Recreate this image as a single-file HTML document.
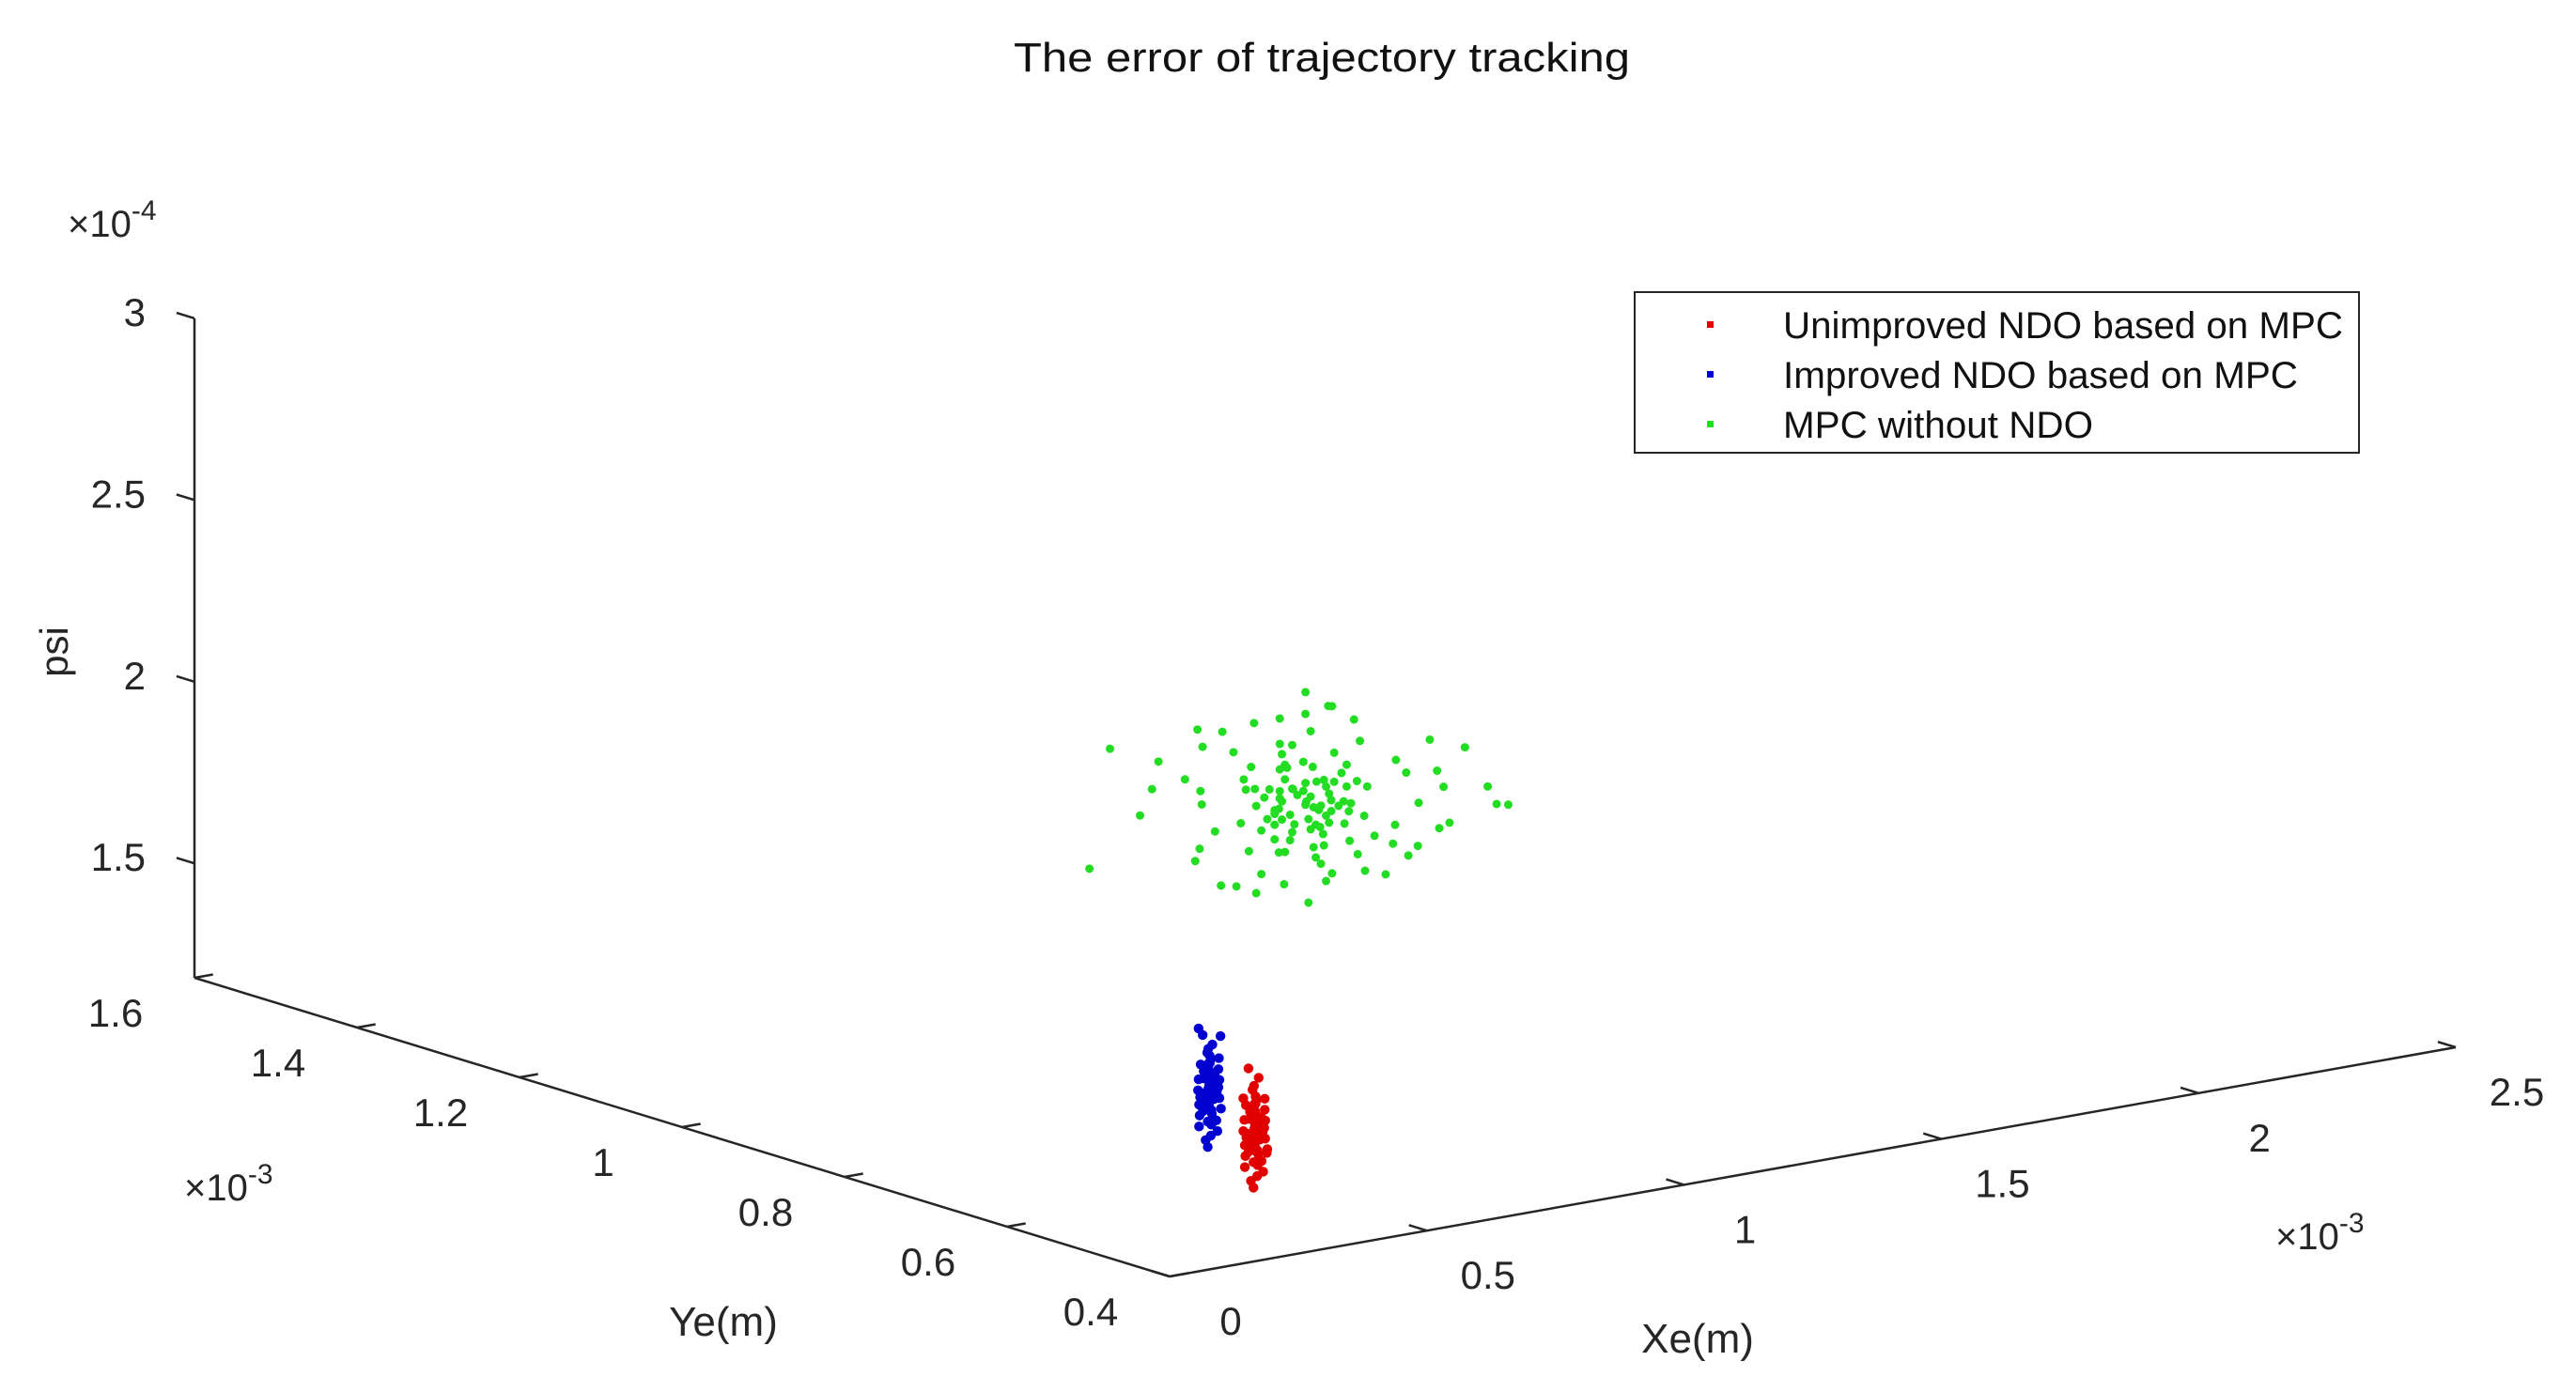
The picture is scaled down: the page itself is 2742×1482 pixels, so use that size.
<!DOCTYPE html>
<html><head><meta charset="utf-8"><style>
html,body{margin:0;padding:0;background:#fff;}
svg{display:block;font-family:"Liberation Sans",Arial,sans-serif;}
</style></head><body>
<svg id="chart" width="2742" height="1482" viewBox="0 0 2742 1482" xmlns="http://www.w3.org/2000/svg">
<rect width="2742" height="1482" fill="#fff"/>
<text x="1407" y="76" font-size="44" text-anchor="middle" fill="#111" textLength="656" lengthAdjust="spacingAndGlyphs">The error of trajectory tracking</text>
<g id="axes"></g>
<g id="marks"></g>
<g id="legend">
<rect x="1740" y="311" width="771" height="171" fill="#fff" stroke="#262626" stroke-width="2"/>
<rect x="1817" y="342" width="7" height="7" fill="#e00000"/>
<text x="1898" y="360" font-size="40" fill="#111" textLength="596" lengthAdjust="spacingAndGlyphs">Unimproved NDO based on MPC</text>
<rect x="1817" y="395" width="7" height="7" fill="#0000d0"/>
<text x="1898" y="413" font-size="40" fill="#111" textLength="548" lengthAdjust="spacingAndGlyphs">Improved NDO based on MPC</text>
<rect x="1817" y="448" width="7" height="7" fill="#22dd22"/>
<text x="1898" y="466" font-size="40" fill="#111" textLength="330" lengthAdjust="spacingAndGlyphs">MPC without NDO</text>
</g>
</svg>
<script>
const xTicks = [0, 0.5, 1, 1.5, 2, 2.5];
const xTickLabels = ["0","0.5","1","1.5","2","2.5"];
const yTicks = [0.4,0.6,0.8,1.0,1.2,1.4,1.6];
const yTickLabels = ["0.4","0.6","0.8","1","1.2","1.4","1.6"];
const zTicks = [1.5,2,2.5,3];
const zTickLabels = ["1.5","2","2.5","3"];

// MPC without NDO (x, y in 1e-3 m; psi in 1e-4)
const greenX = [0.58,0.55,0.61,0.52,0.64,0.57,0.50,0.66,0.60,0.54,
0.47,0.70,0.62,0.56,0.59,0.45,0.73,0.53,0.68,0.49,
0.63,0.41,0.76,0.58,0.51,0.65,0.44,0.71,0.36,0.80,
0.57,0.48,0.67,0.39,0.84,0.60,0.55,0.62,0.33,0.88,
0.52,0.69,0.43,0.78,0.29,0.92,0.58,0.50,0.74,0.46,
0.64,0.38,0.82,0.56,0.61,0.25,0.95,0.53,0.72,0.42,
0.86,0.59,0.35,0.66,0.48,0.79,0.20,0.99,0.57,0.63,
0.45,0.75,0.54,0.31,0.89,0.60,0.51,0.68,0.40,0.83,
0.16,0.57,0.62,0.47,0.70,0.55,0.37,0.77,0.65,0.52,
0.55,0.58,0.61,0.53,0.63,0.57,0.60,0.52,0.66,0.56,
0.59,0.54,0.62,0.50,0.64,0.58,0.55,0.61,0.57,0.60,
0.53,0.67,0.56,0.59,0.51,0.63,0.58,0.54,0.62,0.57,
0.49,0.65,0.60,0.55,0.58,0.61,0.53,0.68,0.56,0.59];
const greenY = [0.60,0.61,0.59,0.60,0.62,0.58,0.60,0.61,0.59,0.60,
0.61,0.60,0.59,0.62,0.60,0.58,0.61,0.60,0.59,0.61,
0.60,0.62,0.59,0.60,0.61,0.58,0.60,0.61,0.59,0.60,
0.62,0.60,0.59,0.61,0.60,0.58,0.61,0.60,0.59,0.62,
0.60,0.61,0.59,0.60,0.62,0.58,0.60,0.61,0.59,0.60,
0.61,0.60,0.59,0.62,0.60,0.58,0.61,0.60,0.59,0.61,
0.60,0.62,0.59,0.60,0.61,0.58,0.60,0.61,0.59,0.60,
0.62,0.60,0.59,0.61,0.60,0.58,0.61,0.60,0.59,0.62,
0.60,0.61,0.59,0.60,0.62,0.58,0.60,0.61,0.59,0.60,
0.60,0.61,0.59,0.60,0.60,0.61,0.59,0.60,0.60,0.61,
0.59,0.60,0.60,0.61,0.59,0.60,0.60,0.61,0.59,0.60,
0.60,0.61,0.59,0.60,0.60,0.61,0.59,0.60,0.60,0.61,
0.59,0.60,0.60,0.61,0.59,0.60,0.60,0.61,0.59,0.60];
const greenZ = [2.20,2.16,2.23,2.20,2.11,2.28,2.24,2.17,2.09,2.32,
2.17,2.22,2.34,2.06,2.40,2.29,2.07,2.38,2.00,2.32,
2.20,2.23,2.25,2.45,2.02,2.06,2.38,2.13,2.30,2.15,
1.97,2.45,2.36,2.12,2.07,2.48,2.34,1.98,2.34,2.16,
2.12,2.40,2.02,2.01,2.23,2.13,2.51,1.97,2.29,2.30,
2.45,2.41,2.24,2.18,2.03,2.34,2.15,2.45,1.98,2.16,
2.08,2.13,2.11,2.29,2.26,2.34,2.45,2.09,1.94,2.17,
2.42,2.05,2.26,2.38,2.28,2.02,2.14,2.24,2.03,2.01,
2.13,2.36,2.26,2.10,2.16,2.23,2.46,2.09,2.09,2.19,
2.18,2.22,2.15,2.25,2.20,2.12,2.27,2.16,2.23,2.30,
2.19,2.08,2.24,2.21,2.14,2.26,2.11,2.29,2.17,2.05,
2.23,2.18,2.33,2.13,2.26,2.10,2.20,2.28,2.16,2.24,
2.19,2.27,2.14,2.21,2.09,2.19,2.31,2.15,2.25,2.22];

// Unimproved NDO based on MPC
const redX = [0.324,0.318,0.330,0.321,0.327,0.315,0.333,0.324,0.319,0.329,
0.322,0.326,0.316,0.331,0.323,0.320,0.328,0.325,0.317,0.332,
0.324,0.321,0.327,0.319,0.330,0.323,0.326,0.318,0.329,0.322,
0.325,0.320,0.328,0.324,0.317,0.331,0.323,0.326,0.321,0.327,
0.322,0.326,0.320,0.328,0.324,0.319,0.327,0.323,0.325,0.321,
0.329,0.318,0.324,0.326,0.320,0.327,0.322,0.325,0.319,0.328];
const redY = [0.50,0.50,0.51,0.49,0.50,0.50,0.51,0.49,0.50,0.50,
0.51,0.49,0.50,0.50,0.51,0.49,0.50,0.50,0.51,0.49,
0.50,0.50,0.51,0.49,0.50,0.50,0.51,0.49,0.50,0.50,
0.51,0.49,0.50,0.50,0.51,0.49,0.50,0.50,0.51,0.49,
0.50,0.50,0.51,0.49,0.50,0.50,0.51,0.49,0.50,0.50,
0.51,0.49,0.50,0.50,0.51,0.49,0.50,0.50,0.51,0.49];
const redZ = [1.44,1.40,1.48,1.36,1.52,1.42,1.46,1.33,1.55,1.38,
1.50,1.45,1.30,1.58,1.41,1.47,1.35,1.53,1.43,1.39,
1.49,1.28,1.60,1.44,1.37,1.51,1.42,1.46,1.34,1.56,
1.40,1.48,1.31,1.45,1.52,1.38,1.43,1.47,1.36,1.50,
1.41,1.45,1.39,1.47,1.43,1.49,1.37,1.44,1.51,1.35,
1.46,1.42,1.40,1.48,1.33,1.53,1.44,1.38,1.46,1.42];

// Improved NDO based on MPC
const blueX = [0.314,0.309,0.319,0.312,0.317,0.306,0.321,0.314,0.310,0.318,
0.313,0.316,0.307,0.320,0.312,0.311,0.318,0.315,0.308,0.321,
0.314,0.311,0.317,0.309,0.319,0.313,0.316,0.308,0.318,0.312,
0.315,0.310,0.317,0.314,0.309,0.320,0.313,0.316,0.311,0.316,
0.312,0.316,0.310,0.318,0.314,0.309,0.317,0.313,0.315,0.311,
0.319,0.308,0.314,0.316,0.310,0.317,0.312,0.315,0.309,0.318];
const blueY = [0.55,0.55,0.56,0.54,0.55,0.55,0.56,0.54,0.55,0.55,
0.56,0.54,0.55,0.55,0.56,0.54,0.55,0.55,0.56,0.54,
0.55,0.55,0.56,0.54,0.55,0.55,0.56,0.54,0.55,0.55,
0.56,0.54,0.55,0.55,0.56,0.54,0.55,0.55,0.56,0.54,
0.55,0.55,0.56,0.54,0.55,0.55,0.56,0.54,0.55,0.55,
0.56,0.54,0.55,0.55,0.56,0.54,0.55,0.55,0.56,0.54];
const blueZ = [1.52,1.48,1.56,1.44,1.60,1.50,1.54,1.41,1.62,1.46,
1.58,1.53,1.38,1.64,1.49,1.55,1.43,1.61,1.51,1.47,
1.57,1.36,1.66,1.52,1.45,1.59,1.50,1.54,1.42,1.63,
1.48,1.56,1.39,1.53,1.68,1.67,1.51,1.55,1.44,1.58,
1.49,1.53,1.47,1.55,1.51,1.57,1.45,1.52,1.59,1.43,
1.54,1.50,1.48,1.56,1.41,1.61,1.52,1.46,1.54,1.50];

const NS = "http://www.w3.org/2000/svg";
const ORG = [1245,1359];
const XV = [1369,-244];
const YV = [-1038,-318];
const zMin = 1.185, zPx = 386.8;
function proj(x,y,z){
  const tx = x/2.5, ty = (y-0.4)/1.2;
  return [ORG[0]+tx*XV[0]+ty*YV[0], ORG[1]+tx*XV[1]+ty*YV[1]-(z-zMin)*zPx];
}
function mk(tag, attrs, parent){
  const e = document.createElementNS(NS, tag);
  for (const k in attrs) e.setAttribute(k, attrs[k]);
  parent.appendChild(e); return e;
}
const axes = document.getElementById('axes');
const marks = document.getElementById('marks');
const AX = "#262626";
function unit(v,l){const n=Math.hypot(v[0],v[1]);return [v[0]/n*l,v[1]/n*l];}

const o = proj(0,0.4,zMin), xe = proj(2.5,0.4,zMin), yb = proj(0,1.6,zMin), zt = proj(0,1.6,3);
let l;
l = mk('line',{x1:o[0],y1:o[1],x2:xe[0],y2:xe[1],stroke:AX,'stroke-width':2.5},axes);


l = mk('line',{x1:o[0],y1:o[1],x2:yb[0],y2:yb[1],stroke:AX,'stroke-width':2.5},axes);


l = mk('line',{x1:yb[0],y1:yb[1],x2:zt[0],y2:zt[1],stroke:AX,'stroke-width':2.5},axes);



const tickX = unit(YV,20), tickY = unit(XV,20), tickZ = unit(YV,20);
function txt(x,y,s,size,anchor,name){
  const t = mk('text',{x:x,y:y,'font-size':size,'text-anchor':anchor,fill:AX},axes);
  t.textContent = s;
  
  
  return t;
}
xTicks.forEach((v,i)=>{
  const p = proj(v,0.4,zMin);
  const t = mk('line',{x1:p[0],y1:p[1],x2:p[0]+tickX[0],y2:p[1]+tickX[1],stroke:AX,'stroke-width':2.5},axes);
  
  
  txt(p[0]+65,p[1]+62,xTickLabels[i],42,'middle','x-tick-label');
});
yTicks.forEach((v,i)=>{
  const p = proj(0,v,zMin);
  const t = mk('line',{x1:p[0],y1:p[1],x2:p[0]+tickY[0],y2:p[1]+tickY[1],stroke:AX,'stroke-width':2.5},axes);
  
  
  txt(p[0]-84,p[1]+52,yTickLabels[i],42,'middle','y-tick-label');
});
zTicks.forEach((v,i)=>{
  const p = proj(0,1.6,v);
  const t = mk('line',{x1:p[0],y1:p[1],x2:p[0]+tickZ[0],y2:p[1]+tickZ[1],stroke:AX,'stroke-width':2.5},axes);
  
  
  txt(p[0]-52,p[1]+8,zTickLabels[i],42,'end','z-tick-label');
});
txt(1807,1440,'Xe(m)',44,'middle','x-axis-title');
txt(770,1422,'Ye(m)',44,'middle','y-axis-title');
const pz = txt(0,0,'psi',42,'middle','z-axis-title');
pz.setAttribute('transform','translate(72,694) rotate(-90)');
function expo(x,y,p,name){
  const t = mk('text',{x:x,y:y,'font-size':40,fill:AX},axes);
  
  
  const a = mk('tspan',{},t); a.textContent='\u00d710';
  const b = mk('tspan',{dy:-18,'font-size':30},t); b.textContent=p;
}
expo(72,252,'-4','z-exponent');
expo(196,1278,'-3','y-exponent');
expo(2422,1330,'-3','x-exponent');

function series(X,Y,Z,col,r,name){
  const g = mk('g',{},marks);
  
  
  for(let i=0;i<X.length;i++){
    const p = proj(X[i],Y[i],Z[i]);
    const c = mk('circle',{cx:p[0],cy:p[1],r:r,fill:col},g);
    
    
  }
}
series(greenX,greenY,greenZ,'#22dd22',4.5,'series-mpc-without-ndo');
series(blueX,blueY,blueZ,'#0000d0',5.2,'series-improved-ndo');
series(redX,redY,redZ,'#e00000',5.2,'series-unimproved-ndo');
</script>
</body></html>
